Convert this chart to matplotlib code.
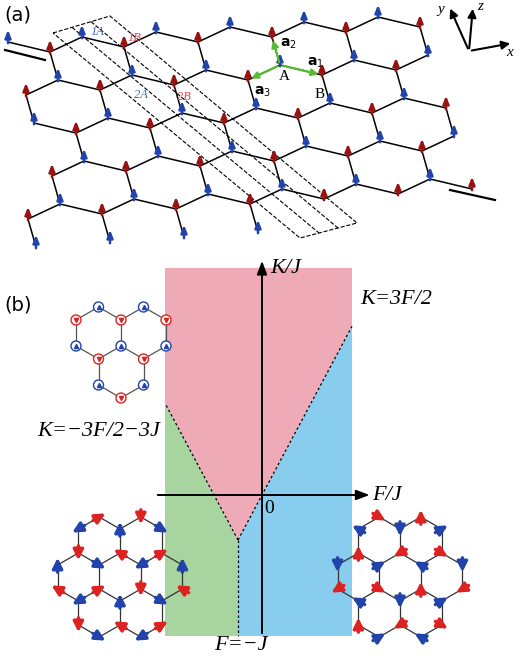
import numpy as np
import matplotlib
matplotlib.use("Agg")
import matplotlib.pyplot as plt
from matplotlib.patches import Polygon, Circle
from matplotlib.path import Path

# ---- data ----
F_min, F_max = -4.04, 3.75
K_min, K_max = -4.7, 7.57
right_slope = 1.5          # K = 3F/2
left_slope, left_icpt = -1.5, -3.0   # K = -3F/2 - 3J
F_vert = -1.0              # F = -J
pink, blue, green = "#eeaab6", "#88ccee", "#a8d4a0"
red_c, blue_c = "#dd2222", "#2244aa"

fig = plt.figure(figsize=(5.2, 6.58), dpi=100)
ax = fig.add_axes([0, 0, 1, 1])
ax.set_xlim(0, 520); ax.set_ylim(658, 0); ax.axis("off")

serif = "Liberation Serif"
# ---------------- panel (a) ----------------
A0 = np.array([280.0, 65.0])
d = [np.array([42., 10.]), np.array([-8., -28.]), np.array([-32., 15.])]
t1 = d[0] - d[2]; t2 = d[1] - d[2]
clip = Path([(-2, 38), (434, 12), (502, 206), (22, 262)])
sitesA = []
for n in range(-10, 11):
    for m in range(-10, 11):
        sitesA.append(A0 + n * t1 + m * t2)
inA = [p for p in sitesA if clip.contains_point(p)]
Bset = {}
for p in sitesA:
    for dd in d:
        q = p + dd
        if clip.contains_point(q):
            Bset[(round(q[0], 1), round(q[1], 1))] = q
for p in inA:
    for dd in d:
        q = p + dd
        if clip.contains_point(q):
            ax.plot([p[0], q[0]], [p[1], q[1]], color="k", lw=1.1, zorder=2)
ax.plot([5, 45], [50, 60], color="k", lw=1.6, zorder=2)
ax.plot([450, 495], [190, 200], color="k", lw=1.6, zorder=2)
for pts, col in [(inA, blue_c), (list(Bset.values()), "#991111")]:
    for p in pts:
        ax.annotate("", xy=(p[0], p[1] - 15), xytext=(p[0], p[1] + 4),
                    arrowprops=dict(arrowstyle="-|>,head_width=0.18,head_length=0.45",
                                    color=col, lw=1.8), zorder=4)
P1, P2, P3, P4 = map(np.array, [(53, 33), (110, 16), (357, 223), (300, 238)])
ax.plot(*zip(P1, P2, P3, P4, P1), ls="--", color="k", lw=0.8, zorder=3)
for f in (1/3, 2/3):
    a_ = P1 + f * (P2 - P1); b_ = P4 + f * (P3 - P4)
    ax.plot([a_[0], b_[0]], [a_[1], b_[1]], ls="--", color="k", lw=0.8, zorder=3)
for txt, x, y, c in [("1A", 97, 32, "#4466bb"), ("1B", 134, 38, "#dd4455"),
                     ("2A", 141, 95, "#4466bb"), ("2B", 184, 97, "#dd4455")]:
    ax.text(x, y, txt, color=c, fontsize=9, style="italic", family=serif, ha="center", va="center", zorder=6)
for dd in d:
    ax.annotate("", xy=A0 + dd * 0.98, xytext=A0,
                arrowprops=dict(arrowstyle="-|>,head_width=0.2,head_length=0.4", color="#55bb33", lw=1.6), zorder=5)
ax.text(288, 44, r"$\mathbf{a}_2$", fontsize=10, family=serif, ha="center", va="center")
ax.text(315, 63, r"$\mathbf{a}_1$", fontsize=10, family=serif, ha="center", va="center")
ax.text(262, 92, r"$\mathbf{a}_3$", fontsize=10, family=serif, ha="center", va="center")
ax.text(284, 77, "A", fontsize=11, family=serif, ha="center", va="center")
ax.text(320, 95, "B", fontsize=11, family=serif, ha="center", va="center")
o = (469, 51)
for tip, lab, lp in [((513, 43), "x", (510, 53)), ((449, 6), "y", (441, 10)), ((473, 6), "z", (480, 6))]:
    ax.annotate("", xy=tip, xytext=o, arrowprops=dict(arrowstyle="-|>,head_width=0.25,head_length=0.5", color="k", lw=1.5))
    ax.text(*lp, lab, fontsize=11, style="italic", family=serif, ha="center", va="center")
ax.text(4, 15, "(a)", fontsize=14, va="center")
ax.text(4, 305, "(b)", fontsize=14, va="center")

# ---------------- panel (b) ----------------
def px(F): return 262 + 24 * np.asarray(F)
def py(K): return 495 - 30 * np.asarray(K)
Fi, Ki = F_vert, left_slope * F_vert + left_icpt
Kr = right_slope * F_max
Kl = left_slope * F_min + left_icpt
regions = [
    (pink, [(F_min, K_max), (F_max, K_max), (F_max, Kr), (Fi, Ki), (F_min, Kl)]),
    (blue, [(Fi, Ki), (F_max, Kr), (F_max, K_min), (Fi, K_min)]),
    (green, [(F_min, Kl), (Fi, Ki), (Fi, K_min), (F_min, K_min)]),
]
for col, pts in regions:
    pts = np.array(pts)
    ax.add_patch(Polygon(np.c_[px(pts[:, 0]), py(pts[:, 1])], closed=True, fc=col, ec="none", zorder=1))
dash = dict(ls=(0, (2, 2)), color="k", lw=0.9, zorder=2)
ax.plot(px([Fi, F_max]), py([Ki, Kr]), **dash)
ax.plot(px([Fi, F_min]), py([Ki, Kl]), **dash)
ax.plot(px([Fi, Fi]), py([Ki, K_min]), **dash)
ax.annotate("", xy=(px(0), py(7.9)), xytext=(px(0), py(K_min)),
            arrowprops=dict(arrowstyle="-|>,head_width=0.3,head_length=0.8", color="k", lw=1.4), zorder=3)
ax.annotate("", xy=(px(4.6), py(0)), xytext=(px(-4.46), py(0)),
            arrowprops=dict(arrowstyle="-|>,head_width=0.3,head_length=0.8", color="k", lw=1.4), zorder=3)
ts = dict(fontsize=16, style="italic", family=serif, ha="center", va="center", zorder=6)
ax.text(px(1.0), py(7.55), "K/J", **ts)
ax.text(px(5.2), py(0), "F/J", **ts)
ax.text(px(5.6), py(6.5), "K=3F/2", **ts)
ax.text(px(-6.8), py(2.1), "K=\u22123F/2\u22123J", **ts)
ax.text(px(-0.9), py(-5.0), "F=\u2212J", **ts)
ax.text(px(0.3), py(-0.45), "0", fontsize=14, family=serif, ha="center", va="center", zorder=6)

def honeycomb(cx, cy, a, centers):
    verts = {}
    edges = set()
    for (i, j) in centers:
        hx = cx + i * np.sqrt(3) * a; hy = cy + j * 1.5 * a
        ks = []
        for k in range(6):
            ang = np.deg2rad(90 + 60 * k)
            v = (round(hx + a * np.cos(ang), 1), round(hy - a * np.sin(ang), 1))
            verts[v] = k % 2
            ks.append(v)
        for k in range(6):
            edges.add(tuple(sorted([ks[k], ks[(k + 1) % 6]])))
    return verts, edges

verts, edges = honeycomb(121, 333, 26.0, [(-0.5, 0), (0.5, 0), (0, 1)])
for e in edges:
    ax.plot(*zip(*e), color="#555555", lw=0.9, zorder=2)
for v, s in verts.items():
    c = red_c if s == 1 else blue_c
    ax.add_patch(Circle(v, 5, fc="white", ec=c, lw=1.0, zorder=3))
    ax.plot(*v, marker="v" if s == 1 else "^", ms=3, color=c, zorder=4)

flower = [(-0.5, -1), (0.5, -1), (-1, 0), (0, 0), (1, 0), (-0.5, 1), (0.5, 1)]
def spin_inset(cx, cy, mirror):
    a = 24.0
    verts, edges = honeycomb(cx, cy, a, flower)
    for e in edges:
        ax.plot(*zip(*e), color="#333333", lw=0.9, zorder=2)
    for v, s in verts.items():
        idx = int(round((v[0] - cx) / (np.sqrt(3) * a / 2)) + round((v[1] - cy) / (a / 2))) % 3
        ang = np.deg2rad((30 + 120 * idx + (180 if s else 0)) * mirror)
        c = red_c if s == 0 else blue_c
        dx, dy = 10 * np.cos(ang), -10 * np.sin(ang)
        ax.annotate("", xy=(v[0] + dx, v[1] + dy), xytext=(v[0] - dx, v[1] - dy),
                    arrowprops=dict(arrowstyle="-|>,head_width=0.3,head_length=0.6", color=c, lw=2.4), zorder=4)

spin_inset(120, 577, 1)
spin_inset(400, 577, -1)

fig.savefig("out.png", dpi=100)
